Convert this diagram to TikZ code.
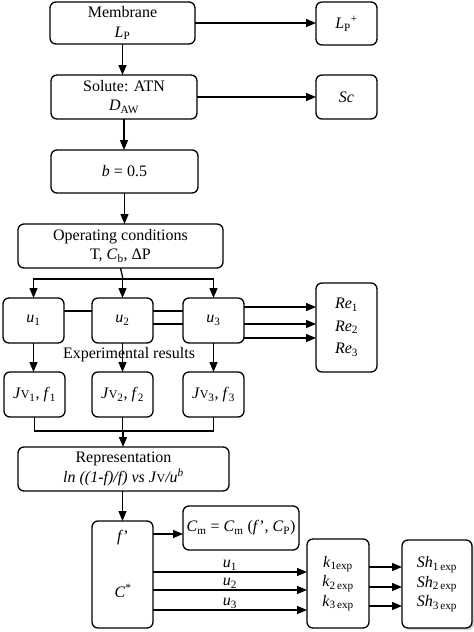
\documentclass[tikz,border=0pt]{standalone}
\usepackage{fontspec}
\setmainfont{Liberation Serif}
\usetikzlibrary{arrows.meta,shadows}
\newcommand{\smV}{{\fontsize{12}{12}\selectfont V}}
\begin{document}
\begin{tikzpicture}[x=1pt,y=-1pt,
  box/.style={draw,rounded corners=6pt,line width=1.3pt,anchor=north west,inner sep=0pt,outer sep=0pt,align=center,font=\fontsize{16}{19.5}\selectfont},
  lbl/.style={inner sep=0pt,font=\fontsize{16}{19.5}\selectfont},
  ln/.style={line width=1.3pt},
  arr/.style={line width=1.3pt,-{Triangle[length=10pt,width=8pt]}}]
\useasboundingbox (0,0) rectangle (474,632);
% boxes
\node[box,minimum width=145pt,minimum height=42pt] (mem) at (50,2) {Membrane\\\textit{L}\textsubscript{P}};
\node[box,minimum width=61pt,minimum height=43pt] (lp) at (316,2) {\textit{L}\textsubscript{P}\textsuperscript{+}};
\node[box,minimum width=146pt,minimum height=44pt] (sol) at (51,75) {Solute: ATN\\\textit{D}\textsubscript{AW}};
\node[box,minimum width=61pt,minimum height=44pt] (sc) at (316,75) {\textit{Sc}};
\node[box,minimum width=147pt,minimum height=43pt] (bb) at (51,150) {\textit{b} = 0.5};
\node[box,minimum width=205pt,minimum height=44pt] (op) at (18,224) {Operating conditions\\T, \textit{C}\textsubscript{b}, ΔP};
\node[box,minimum width=61pt,minimum height=45pt] (u1) at (3,298) {\textit{u}\textsubscript{1}};
\node[box,minimum width=61pt,minimum height=45pt] (u2) at (92,298) {\textit{u}\textsubscript{2}};
\node[box,minimum width=61pt,minimum height=45pt] (u3) at (183,298) {\textit{u}\textsubscript{3}};
\node[box,minimum width=61pt,minimum height=89pt] (re) at (316,283) {\textit{Re}\textsubscript{1}\\[3pt]\textit{Re}\textsubscript{2}\\[3pt]\textit{Re}\textsubscript{3}};
\node[lbl] (exp) at (129,355) {Experimental results};
\node[box,minimum width=61pt,minimum height=45pt] (jv1) at (4,372) {\textit{J}\smV\textsubscript{1}, \textit{f}\textsubscript{1}};
\node[box,minimum width=61pt,minimum height=45pt] (jv2) at (92,372) {\textit{J}\smV\textsubscript{2}, \textit{f}\textsubscript{2}};
\node[box,minimum width=61pt,minimum height=45pt] (jv3) at (183,372) {\textit{J}\smV\textsubscript{3}, \textit{f}\textsubscript{3}};
\node[box,minimum width=211pt,minimum height=44pt] (rep) at (18,447) {Representation\\\textit{ln ((1-f)/f) vs J}\smV\textit{/u}\textsuperscript{\textit{b}}};
\node[box,minimum width=61pt,minimum height=107pt] (fc) at (92,521) {};
\node[lbl] (fp) at (123,538) {\textit{f}’};
\node[lbl] (cs) at (123,591) {\textit{C}\textsuperscript{*}};
\node[box,minimum width=116pt,minimum height=44pt] (cm) at (183,506) {\textit{C}\textsubscript{m} = \textit{C}\textsubscript{m} (\textit{f}’, \textit{C}\textsubscript{P})};
\node[box,minimum width=62pt,minimum height=89pt] (k) at (307,539) {\textit{k}\textsubscript{1exp}\\\textit{k}\textsubscript{2\,exp}\\\textit{k}\textsubscript{3\,exp}};
\node[box,minimum width=70pt,minimum height=88pt,drop shadow={opacity=0.35,shadow xshift=2pt,shadow yshift=-2pt},fill=white] (sh) at (402,540) {\textit{Sh}\textsubscript{1\,exp}\\\textit{Sh}\textsubscript{2\,exp}\\\textit{Sh}\textsubscript{3\,exp}};
% top connectors
\draw[arr] (mem.east) -- (mem.east -| lp.west);
\draw[arr] (mem.south) -- (mem.south |- sol.north);
\draw[arr] (sol.east) -- (sol.east -| sc.west);
\draw[arr] (sol.south) -- (sol.south |- bb.north);
\draw[arr] (bb.south) -- (bb.south |- op.north);
% operating conditions fan-out
\coordinate (opj) at (123,279);
\draw[ln] (op.south) -- (opj);
\draw[arr] (opj) -| (u1.north);
\draw[arr] (opj) -- (opj -| u2.north) -- (u2.north);
\draw[arr] (opj) -| (u3.north);
% horizontal lines between u boxes
\draw[ln] ([yshift=9.5pt]u1.east) -- ([yshift=9.5pt]u1.east -| u2.west);
\draw[ln] ([yshift=9.5pt]u2.east) -- ([yshift=9.5pt]u2.east -| u3.west);
\draw[ln] ([yshift=-3.5pt]u2.east) -- ([yshift=-3.5pt]u2.east -| u3.west);
\draw[arr] ([yshift=13.5pt]u3.east) -- ([yshift=13.5pt]u3.east -| re.west);
\draw[arr] ([yshift=-3.5pt]u3.east) -- ([yshift=-3.5pt]u3.east -| re.west);
\draw[arr] ([yshift=-17.5pt]u3.east) -- ([yshift=-17.5pt]u3.east -| re.west);
% u to Jv
\draw[arr] (u1.south) -- (u1.south |- jv1.north);
\draw[arr] (u2.south) -- (u2.south |- jv2.north);
\draw[arr] (u3.south) -- (u3.south |- jv3.north);
% Jv merge
\coordinate (jj) at (123,431);
\draw[ln] (jv1.south) |- (jj);
\draw[ln] (jv3.south) |- (jj);
\draw[ln] (jv2.south) -- (jv2.south |- jj);
\draw[arr] (jj) -- (jj |- rep.north);
% representation to f'/C*
\draw[arr] (rep.south -| fc.north) -- (fc.north);
% f' to Cm
\path (cm.west) ++(0,6) coordinate (cmin);
\draw[arr] (fc.east |- cmin) -- (cmin);
% u arrows to k
\path (fc.east) ++(0,-2.5) coordinate (a1) ++(0,18) coordinate (a2) ++(0,20) coordinate (a3);
\draw[arr] (a1) -- node[above=1pt,lbl] (lu1) {\textit{u}\textsubscript{1}} (a1 -| k.west);
\draw[arr] (a2) -- node[above=1pt,lbl] (lu2) {\textit{u}\textsubscript{2}} (a2 -| k.west);
\draw[arr] (a3) -- node[above=1pt,lbl] (lu3) {\textit{u}\textsubscript{3}} (a3 -| k.west);
% k to Sh
\path (k.east) ++(0,-16.5) coordinate (b1) ++(0,20) coordinate (b2) ++(0,19) coordinate (b3);
\draw[arr] (b1) -- (b1 -| sh.west);
\draw[arr] (b2) -- (b2 -| sh.west);
\draw[arr] (b3) -- (b3 -| sh.west);
\end{tikzpicture}
\end{document}
